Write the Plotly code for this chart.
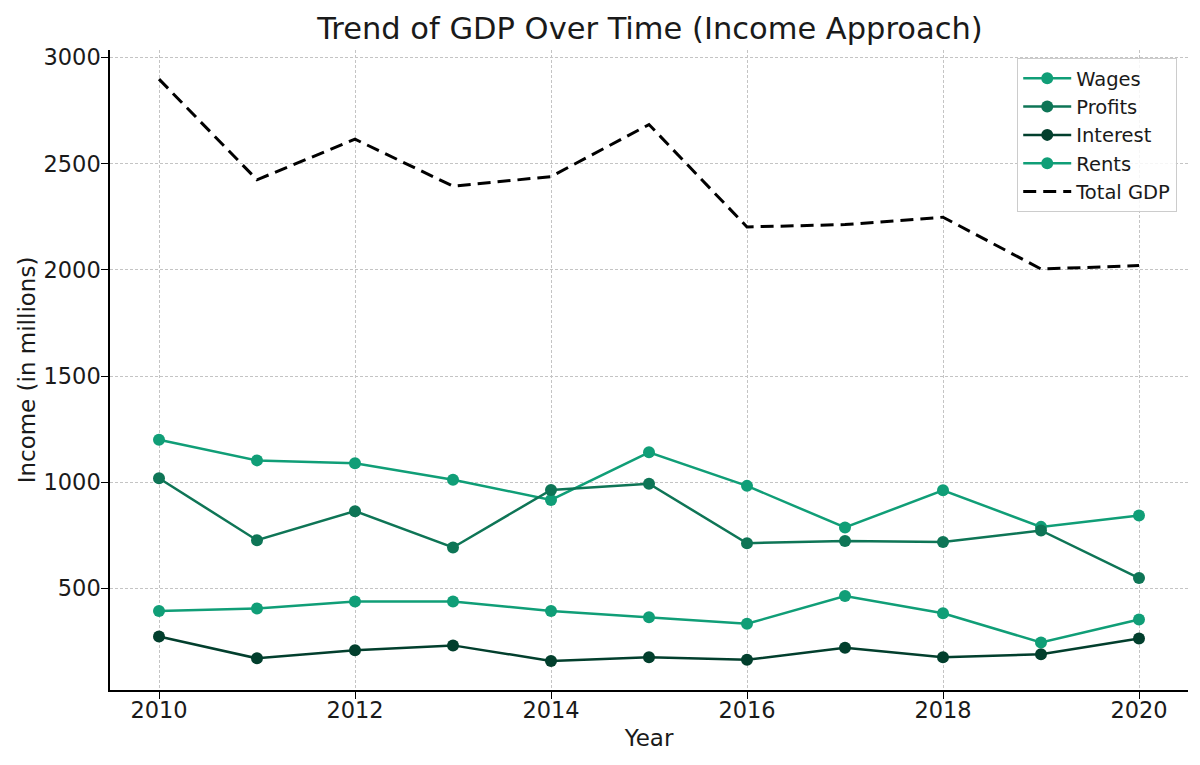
import plotly.graph_objects as go

years = list(range(2010, 2021))
wages = [1200, 1103, 1089, 1012, 917, 1141, 983, 787, 962, 790, 843]
profits = [1019, 727, 864, 693, 964, 993, 713, 724, 719, 773, 549]
interest = [274, 171, 209, 232, 159, 176, 164, 221, 176, 190, 264]
rents = [394, 406, 439, 439, 394, 364, 334, 464, 383, 246, 354]
total_gdp = [2898, 2424, 2615, 2394, 2439, 2684, 2202, 2213, 2248, 2004, 2020]

series = [
    ("Wages", wages, "#109e77"),
    ("Profits", profits, "#0e7556"),
    ("Interest", interest, "#023f2d"),
    ("Rents", rents, "#109e77"),
]

FONT = "DejaVu Sans"
TXT = "#1a1a1a"
fig = go.Figure()
for name, vals, col in series:
    fig.add_trace(go.Scatter(
        x=years, y=vals, name=name, mode="lines+markers",
        line=dict(color=col, width=2.5),
        marker=dict(color=col, size=12),
    ))
fig.add_trace(go.Scatter(
    x=years, y=total_gdp, name="Total GDP", mode="lines",
    line=dict(color="black", width=3, dash="13px,7px"),
))

fig.update_layout(
    width=1200, height=765,
    margin=dict(l=110, r=12, t=50, b=75),
    paper_bgcolor="white", plot_bgcolor="white",
    font=dict(family=FONT, color=TXT, size=22),
    title=dict(text="Trend of GDP Over Time (Income Approach)", x=0.5416, xanchor="center",
               y=0.963, yanchor="middle", font=dict(size=30.5, family=FONT, color=TXT)),
    legend=dict(x=0.99, y=0.9875, xanchor="right", yanchor="top",
                bgcolor="rgba(255,255,255,0.85)", bordercolor="#cccccc", borderwidth=1,
                itemwidth=48,
                font=dict(size=19.5, family=FONT, color=TXT)),
    showlegend=True,
)
fig.update_xaxes(
    range=[2009.5, 2020.5], tickvals=[2010, 2012, 2014, 2016, 2018, 2020],
    title=dict(text="Year", font=dict(size=23, family=FONT, color=TXT), standoff=8),
    showline=True, linecolor="black", linewidth=1.5, mirror=False,
    ticks="outside", ticklen=7, tickcolor="black", tickwidth=1.2,
    ticklabelstandoff=-8,
    showgrid=True, gridcolor="#c4c4c4", griddash="3px,2px", gridwidth=1,
    zeroline=False, tickfont=dict(size=22.5, family=FONT, color=TXT),
)
fig.update_yaxes(
    range=[22, 3035], tickvals=[500, 1000, 1500, 2000, 2500, 3000],
    title=dict(text="Income (in millions)", font=dict(size=23, family=FONT, color=TXT), standoff=1),
    showline=True, linecolor="black", linewidth=1.5, mirror=False,
    ticks="outside", ticklen=7, tickcolor="black", tickwidth=1.2,
    ticklabelstandoff=-4,
    showgrid=True, gridcolor="#c4c4c4", griddash="3px,2px", gridwidth=1,
    zeroline=False, tickfont=dict(size=22.5, family=FONT, color=TXT),
)

fig.write_html("out.html")
